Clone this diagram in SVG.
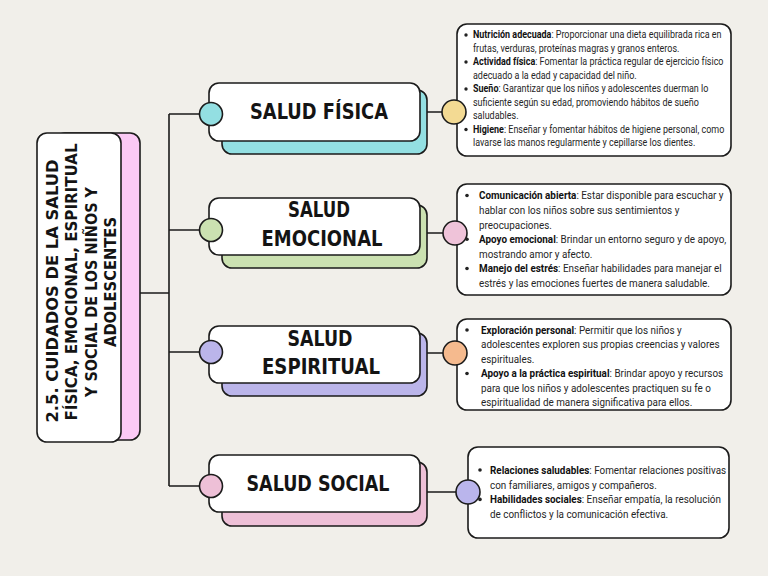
<svg xmlns="http://www.w3.org/2000/svg" width="768" height="576" viewBox="0 0 768 576">
<style>
.box{fill:#fff;stroke:#1b1b1b;stroke-width:1.6}
.lbl{font-family:"DejaVu Sans","Liberation Sans",sans-serif;font-weight:bold;fill:#141414;font-size:21px;text-anchor:middle}
.ttl{font-family:"DejaVu Sans","Liberation Sans",sans-serif;font-weight:bold;fill:#141414;font-size:16px;text-anchor:middle}
.t1{font-family:Roboto,"Liberation Sans",sans-serif;font-size:10.5px;fill:#262626}
.t2{font-family:Roboto,"Liberation Sans",sans-serif;font-size:11.5px;fill:#262626}
.b{font-weight:bold;fill:#111}
.conn{stroke:#1b1b1b;stroke-width:1.6;fill:none}
.dot{fill:#222}
.ring{stroke:#1b1b1b;stroke-width:1.6}
</style>
<rect width="768" height="576" fill="#f1efea"/>

<g id="connectors">
<path class="conn" d="M140,293H169M169,114V486M169,114H200M169,230H200M169,352H200M169,486H200"/>
<path class="conn" d="M427,112H442M427,233H443M427,353H443M427,492H456"/>
</g>

<g id="title">
<rect x="55" y="133" width="85" height="307" rx="10" fill="#fbc9f5" class="ring"/>
<rect x="37" y="133" width="84" height="309" rx="10" class="box"/>
<text class="ttl" transform="translate(58,291) rotate(-90)" textLength="263" lengthAdjust="spacingAndGlyphs">2.5. CUIDADOS DE LA SALUD</text>
<text class="ttl" transform="translate(77,282) rotate(-90)" textLength="277" lengthAdjust="spacingAndGlyphs">FÍSICA, EMOCIONAL, ESPIRITUAL</text>
<text class="ttl" transform="translate(97,292) rotate(-90)" textLength="210" lengthAdjust="spacingAndGlyphs">Y SOCIAL DE LOS NIÑOS Y</text>
<text class="ttl" transform="translate(116,282) rotate(-90)" textLength="130" lengthAdjust="spacingAndGlyphs">ADOLESCENTES</text>
</g>

<g id="node-fisica">
<rect x="222" y="90" width="205" height="64" rx="10" fill="#93dfe2" class="ring"/>
<rect x="209" y="83" width="211" height="58" rx="10" class="box"/>
<circle cx="211" cy="114" r="11.5" fill="#93dfe2" class="ring"/>
<text class="lbl" x="319" y="119" textLength="138" lengthAdjust="spacingAndGlyphs">SALUD FÍSICA</text>
</g>

<g id="node-emocional">
<rect x="222" y="205" width="205" height="63" rx="10" fill="#cbe1b1" class="ring"/>
<rect x="209" y="198" width="211" height="57" rx="10" class="box"/>
<circle cx="211" cy="230" r="11.5" fill="#cbe1b1" class="ring"/>
<text class="lbl" x="319" y="217" textLength="62" lengthAdjust="spacingAndGlyphs">SALUD</text>
<text class="lbl" x="322" y="246" textLength="121" lengthAdjust="spacingAndGlyphs">EMOCIONAL</text>
</g>

<g id="node-espiritual">
<rect x="222" y="333" width="205" height="63" rx="10" fill="#bbb5ea" class="ring"/>
<rect x="209" y="326" width="211" height="57" rx="10" class="box"/>
<circle cx="211" cy="352" r="11.5" fill="#bbb5ea" class="ring"/>
<text class="lbl" x="320" y="346" textLength="65" lengthAdjust="spacingAndGlyphs">SALUD</text>
<text class="lbl" x="321" y="374" textLength="118" lengthAdjust="spacingAndGlyphs">ESPIRITUAL</text>
</g>

<g id="node-social">
<rect x="222" y="462" width="205" height="64" rx="10" fill="#eec0d7" class="ring"/>
<rect x="209" y="455" width="211" height="57" rx="10" class="box"/>
<circle cx="211" cy="486" r="11.5" fill="#eec0d7" class="ring"/>
<text class="lbl" x="318" y="491" textLength="143" lengthAdjust="spacingAndGlyphs">SALUD SOCIAL</text>
</g>

<g id="detail-fisica">
<rect x="457" y="24" width="274" height="132" rx="10" class="box"/>
<circle cx="454" cy="112" r="12" fill="#f3da93" class="ring"/>
<circle class="dot" cx="466" cy="35" r="1.7"/>
<circle class="dot" cx="466" cy="62" r="1.7"/>
<circle class="dot" cx="466" cy="89" r="1.7"/>
<circle class="dot" cx="466" cy="129.5" r="1.7"/>
<g class="t1" transform="translate(473,0) scale(0.855,1)">
<text x="0" y="38.5"><tspan class="b">Nutrición adecuada</tspan>: Proporcionar una dieta equilibrada rica en</text>
<text x="0" y="52">frutas, verduras, proteínas magras y granos enteros.</text>
<text x="0" y="65.5"><tspan class="b">Actividad física</tspan>: Fomentar la práctica regular de ejercicio físico</text>
<text x="0" y="79">adecuado a la edad y capacidad del niño.</text>
<text x="0" y="92.5"><tspan class="b">Sueño</tspan>: Garantizar que los niños y adolescentes duerman lo</text>
<text x="0" y="106">suficiente según su edad, promoviendo hábitos de sueño</text>
<text x="0" y="119.5">saludables.</text>
<text x="0" y="133"><tspan class="b">Higiene</tspan>: Enseñar y fomentar hábitos de higiene personal, como</text>
<text x="0" y="146.5">lavarse las manos regularmente y cepillarse los dientes.</text>
</g>
</g>

<g id="detail-emocional">
<rect x="457" y="184" width="274" height="111" rx="10" class="box"/>
<circle cx="455" cy="233" r="12" fill="#efc3d9" class="ring"/>
<circle class="dot" cx="467" cy="195.5" r="1.8"/>
<circle class="dot" cx="467" cy="239.3" r="1.8"/>
<circle class="dot" cx="467" cy="268.5" r="1.8"/>
<g class="t2" transform="translate(479,0) scale(0.86,1)">
<text x="0" y="199.5"><tspan class="b">Comunicación abierta</tspan>: Estar disponible para escuchar y</text>
<text x="0" y="214.1">hablar con los niños sobre sus sentimientos y</text>
<text x="0" y="228.7">preocupaciones.</text>
<text x="0" y="243.3"><tspan class="b">Apoyo emocional</tspan>: Brindar un entorno seguro y de apoyo,</text>
<text x="0" y="257.9">mostrando amor y afecto.</text>
<text x="0" y="272.5"><tspan class="b">Manejo del estrés</tspan>: Enseñar habilidades para manejar el</text>
<text x="0" y="287.1">estrés y las emociones fuertes de manera saludable.</text>
</g>
</g>

<g id="detail-espiritual">
<rect x="457" y="319" width="274" height="91" rx="10" class="box"/>
<circle cx="455" cy="353" r="12" fill="#f5ba8e" class="ring"/>
<circle class="dot" cx="467" cy="330" r="1.8"/>
<circle class="dot" cx="467" cy="373.5" r="1.8"/>
<g class="t2" transform="translate(481,0) scale(0.86,1)">
<text x="0" y="334"><tspan class="b">Exploración personal</tspan>: Permitir que los niños y</text>
<text x="0" y="348.5">adolescentes exploren sus propias creencias y valores</text>
<text x="0" y="363">espirituales.</text>
<text x="0" y="377.5"><tspan class="b">Apoyo a la práctica espiritual</tspan>: Brindar apoyo y recursos</text>
<text x="0" y="392">para que los niños y adolescentes practiquen su fe o</text>
<text x="0" y="406.5">espiritualidad de manera significativa para ellos.</text>
</g>
</g>

<g id="detail-social">
<rect x="468" y="447" width="261" height="91" rx="10" class="box"/>
<circle cx="468" cy="492" r="12" fill="#bab5ec" class="ring"/>
<circle class="dot" cx="480" cy="470" r="1.8"/>
<circle class="dot" cx="480" cy="499.4" r="1.8"/>
<g class="t2" transform="translate(490,0) scale(0.86,1)">
<text x="0" y="474"><tspan class="b">Relaciones saludables</tspan>: Fomentar relaciones positivas</text>
<text x="0" y="488.7">con familiares, amigos y compañeros.</text>
<text x="0" y="503.4"><tspan class="b">Habilidades sociales</tspan>: Enseñar empatía, la resolución</text>
<text x="0" y="518.1">de conflictos y la comunicación efectiva.</text>
</g>
</g>
</svg>
